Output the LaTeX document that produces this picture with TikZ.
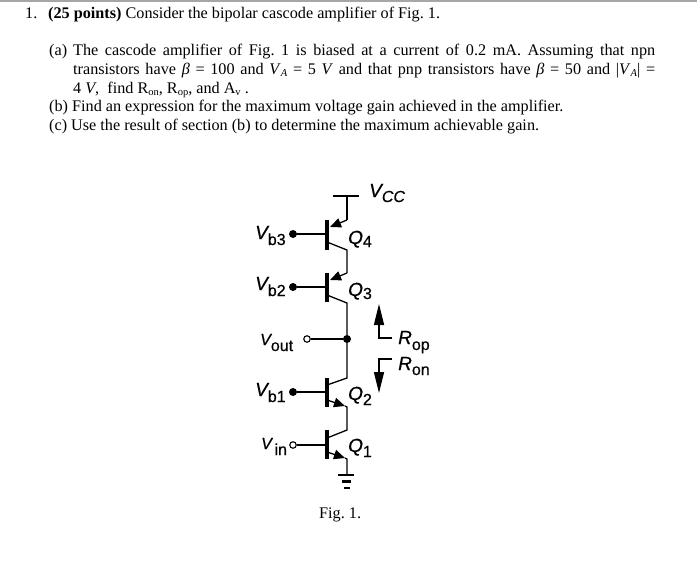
\documentclass[tikz,border=0pt]{standalone}
\usepackage{fontspec}
\setmainfont{Liberation Serif}
\newfontfamily\labelfont[FakeBold=0.6]{Liberation Sans}
\usetikzlibrary{arrows.meta,positioning}

\newcommand{\sublabel}[3]{{\fontsize{19}{19}\selectfont\itshape #1}\raisebox{#3}{\fontsize{16}{16}\selectfont #2}}
\newcommand{\lowtext}[1]{\raisebox{-2pt}{\fontsize{10.5}{10.5}\selectfont #1}}
\newcommand{\mathvar}[1]{\textit{#1}}
\tikzset{
  line/.style={anchor=base west,inner sep=0pt,font=\fontsize{16.2}{18}\selectfont\frenchspacing},
  lab/.style={anchor=base west,inner sep=0pt,font=\labelfont},
  wire/.style={line width=1.3pt},
  basebar/.style={line width=3.6pt},
  emitter/.style={line width=1.3pt,-{Triangle[length=11pt,width=9.5pt]}},
  sense/.style={line width=1.3pt,-{Triangle[length=21pt,width=10pt]}},
  dot/.style={circle,fill=black,inner sep=0pt,minimum size=8pt},
  port/.style={circle,draw=black,fill=white,line width=1.1pt,inner sep=0pt,minimum size=6.5pt}
}

\begin{document}
\begin{tikzpicture}[x=1pt,y=-1pt]
\useasboundingbox (0,0) rectangle (697,574);

\fill[black!35] (0,0) rectangle (697,1.5);

% question text
\node[line] (num) at (25,18) {1.};
\node[line] (head) at (48,18) {\textbf{(25 points)} Consider the bipolar cascode amplifier of Fig. 1.};
\node[line] (parta) at (49,55) {(a)};
\node[line] (linea) at (73,55) {\makebox[582pt][s]{The cascode amplifier of Fig. 1 is biased at a current of 0.2 mA. Assuming that npn}};
\node[line] (lineb) at (73,74) {\makebox[582pt][s]{transistors have \mathvar{β} = 100 and \mathvar{V}\lowtext{\textit{A}} = 5 \mathvar{V} and that pnp transistors have \mathvar{β} = 50 and |\mathvar{V}\lowtext{\textit{A}}| =}};
\node[line] (linec) at (73,93) {4 \mathvar{V},\ \ find R\lowtext{on}, R\lowtext{op}, and A\lowtext{v} .};
\node[line] (partb) at (49,111) {(b) Find an expression for the maximum voltage gain achieved in the amplifier.};
\node[line] (partc) at (49,130) {(c) Use the result of section (b) to determine the maximum achievable gain.};

% supply and ground
\coordinate (vccl) at (333,196);
\coordinate (vccr) at (359,196);
\coordinate (vcc) at (347,196);
\coordinate (gnd) at (347,475);

% Q4
\coordinate (q4e) at (347,220);
\coordinate (q4c) at (347,250);
\coordinate (q4a) at (330,227);
\coordinate (q4i) at (327,242);
\coordinate (q4b) at (327,234);
\node[dot] (vb3) at (293,234) {};
% Q3
\coordinate (q3e) at (347,273);
\coordinate (q3c) at (347,303);
\coordinate (q3a) at (330,280);
\coordinate (q3i) at (327,295);
\coordinate (q3b) at (327,287);
\node[dot] (vb2) at (293,287) {};
% output node
\node[dot] (out) at (347,339) {};
\node[port] (vout) at (307,339) {};
% Q2
\coordinate (q2c) at (347,378);
\coordinate (q2e) at (347,407);
\coordinate (q2i) at (327,385);
\coordinate (q2o) at (327,400);
\coordinate (q2a) at (345,406);
\coordinate (q2b) at (327,392);
\node[dot] (vb1) at (293,392) {};
% Q1
\coordinate (q1c) at (347,430);
\coordinate (q1e) at (347,459);
\coordinate (q1i) at (327,438);
\coordinate (q1o) at (327,452);
\coordinate (q1a) at (345,458);
\coordinate (q1b) at (327,445);
\node[port] (vin) at (293,445) {};

\draw[wire] (vccl) -- (vccr);
\draw[wire] (vcc) -- (q4e);
\draw[emitter] (q4e) -- (q4a);
\draw[wire] (vb3) -- (q4b);
\draw[basebar] (327,219.5) -- (327,250);
\draw[wire] (q4i) -- (q4c) -- (q3e);
\draw[emitter] (q3e) -- (q3a);
\draw[wire] (vb2) -- (q3b);
\draw[basebar] (327,272.5) -- (327,302);
\draw[wire] (q3i) -- (q3c) -- (out);
\draw[wire] (vout) -- (out);
\draw[wire] (out) -- (q2c) -- (q2i);
\draw[wire] (vb1) -- (q2b);
\draw[basebar] (327,378) -- (327,407);
\draw[emitter] (q2o) -- (q2a);
\draw[wire] (q2a) -- (q2e) -- (q1c) -- (q1i);
\draw[wire] (vin) -- (q1b);
\draw[basebar] (327,430) -- (327,459);
\draw[emitter] (q1o) -- (q1a);
\draw[wire] (q1a) -- (q1e) -- (gnd);

% ground bars
\draw[line width=2.4pt] (338,475) -- (354,475);
\draw[line width=2.4pt] (342,481.5) -- (351,481.5);
\draw[line width=2.8pt] (344,488) -- (350,488);

% impedance arrows
\coordinate (ropend) at (392,338);
\coordinate (ropcorner) at (379,338);
\coordinate (roptip) at (379,304);
\coordinate (ronend) at (392,359);
\coordinate (roncorner) at (379,359);
\coordinate (rontip) at (379,393);
\draw[sense] (ropend) -- (ropcorner) -- (roptip);
\draw[sense] (ronend) -- (roncorner) -- (rontip);

% labels
\node[lab] (lvcc) at (369,197) {\sublabel{V}{\itshape CC}{-5pt}};
\node[lab] (lvb3) at (255,239) {\sublabel{V}{b3}{-6pt}};
\node[lab] (lvb2) at (255,290) {\sublabel{V}{b2}{-6pt}};
\node[lab] (lvout) at (260,345) {{\fontsize{16}{16}\selectfont\itshape V}\raisebox{-6pt}{\fontsize{16}{16}\selectfont out}};
\node[lab] (lvb1) at (255,396) {\sublabel{V}{b1}{-6pt}};
\node[lab] (lvin) at (261,449) {{\fontsize{16}{16}\selectfont\itshape V\,}\raisebox{-6pt}{\fontsize{16}{16}\selectfont in}};
\node[lab] (lq4) at (348,244) {\sublabel{Q}{4}{-3pt}};
\node[lab] (lq3) at (348,296) {\sublabel{Q}{3}{-3pt}};
\node[lab] (lq2) at (348,400) {\sublabel{Q}{2}{-5pt}};
\node[lab] (lq1) at (348,452) {\sublabel{Q}{1}{-5pt}};
\node[lab] (lrop) at (398,344) {\sublabel{R}{op}{-6pt}};
\node[lab] (lron) at (398,370) {\sublabel{R}{on}{-5pt}};
\node[line] (caption) at (319,518) {Fig. 1.};

\end{tikzpicture}
\end{document}
